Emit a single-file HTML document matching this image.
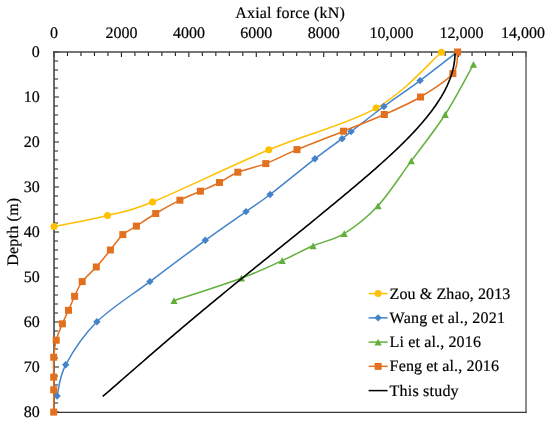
<!DOCTYPE html>
<html><head><meta charset="utf-8"><style>html,body{margin:0;padding:0;background:#fff;}svg{display:block;}</style></head>
<body><svg width="550" height="423" viewBox="0 0 550 423" font-family="'Liberation Serif', 'Times New Roman', serif" font-size="16" fill="#000" text-rendering="geometricPrecision">
<style>text{stroke:#000;stroke-width:0.2px;}</style>
<path d="M54.00,52v5 M67.49,52v4 M80.97,52v4 M94.46,52v4 M107.94,52v4 M121.43,52v5 M134.91,52v4 M148.40,52v4 M161.89,52v4 M175.37,52v4 M188.86,52v5 M202.34,52v4 M215.83,52v4 M229.31,52v4 M242.80,52v4 M256.29,52v5 M269.77,52v4 M283.26,52v4 M296.74,52v4 M310.23,52v4 M323.71,52v5 M337.20,52v4 M350.69,52v4 M364.17,52v4 M377.66,52v4 M391.14,52v5 M404.63,52v4 M418.11,52v4 M431.60,52v4 M445.09,52v4 M458.57,52v5 M472.06,52v4 M485.54,52v4 M499.03,52v4 M512.51,52v4 M526.00,52v5 M54,52.00h5 M54,61.00h4 M54,70.00h4 M54,79.00h4 M54,88.00h4 M54,97.00h5 M54,106.00h4 M54,115.00h4 M54,124.00h4 M54,133.00h4 M54,142.00h5 M54,151.00h4 M54,160.00h4 M54,169.00h4 M54,178.00h4 M54,187.00h5 M54,196.00h4 M54,205.00h4 M54,214.00h4 M54,223.00h4 M54,232.00h5 M54,241.00h4 M54,250.00h4 M54,259.00h4 M54,268.00h4 M54,277.00h5 M54,286.00h4 M54,295.00h4 M54,304.00h4 M54,313.00h4 M54,322.00h5 M54,331.00h4 M54,340.00h4 M54,349.00h4 M54,358.00h4 M54,367.00h5 M54,376.00h4 M54,385.00h4 M54,394.00h4 M54,403.00h4 M54,412.00h5" stroke="#1e1e1e" stroke-width="1.1" fill="none"/>
<path d="M526,52V412.9" stroke="#6f6f6f" stroke-width="1.6" fill="none"/>
<path d="M53.1,412.4H526.8" stroke="#383838" stroke-width="1.3" fill="none"/>
<path d="M54,412.4V51.1M53.1,52H526.8" stroke="#474747" stroke-width="1.6" fill="none"/>
<path d="M441.40,52.30 C430.53,61.60 404.97,91.85 376.20,108.10 C347.43,124.35 306.08,134.15 268.80,149.80 C231.52,165.45 179.38,191.07 152.50,202.00 C125.62,212.93 123.92,211.30 107.50,215.40 C91.08,219.50 62.92,224.73 54.00,226.60" stroke="#FFC000" stroke-width="1.5" fill="none" stroke-linejoin="round" stroke-linecap="round"/>
<circle cx="441.40" cy="52.30" r="3.50" fill="#FFC000"/><circle cx="376.20" cy="108.10" r="3.50" fill="#FFC000"/><circle cx="268.80" cy="149.80" r="3.50" fill="#FFC000"/><circle cx="152.50" cy="202.00" r="3.50" fill="#FFC000"/><circle cx="107.50" cy="215.40" r="3.50" fill="#FFC000"/><circle cx="54.00" cy="226.60" r="3.50" fill="#FFC000"/>
<path d="M455.00,53.60 C449.18,58.10 431.95,71.78 420.10,80.60 C408.25,89.42 395.40,98.00 383.90,106.50 C372.40,115.00 358.07,126.23 351.10,131.60 C344.13,136.97 348.13,134.17 342.10,138.70 C336.07,143.23 326.90,149.50 314.90,158.80 C302.90,168.10 281.58,185.70 270.10,194.50 C258.62,203.30 256.80,203.97 246.00,211.60 C235.20,219.23 221.32,228.63 205.30,240.30 C189.28,251.97 167.97,268.02 149.90,281.60 C131.83,295.18 110.93,307.93 96.90,321.80 C82.87,335.67 72.33,352.43 65.70,364.80 C59.07,377.17 58.53,390.80 57.10,396.00" stroke="#4283C9" stroke-width="1.5" fill="none" stroke-linejoin="round" stroke-linecap="round"/>
<path d="M420.10,76.90L423.80,80.60L420.10,84.30L416.40,80.60Z" fill="#4283C9"/><path d="M383.90,102.80L387.60,106.50L383.90,110.20L380.20,106.50Z" fill="#4283C9"/><path d="M351.10,127.90L354.80,131.60L351.10,135.30L347.40,131.60Z" fill="#4283C9"/><path d="M342.10,135.00L345.80,138.70L342.10,142.40L338.40,138.70Z" fill="#4283C9"/><path d="M314.90,155.10L318.60,158.80L314.90,162.50L311.20,158.80Z" fill="#4283C9"/><path d="M270.10,190.80L273.80,194.50L270.10,198.20L266.40,194.50Z" fill="#4283C9"/><path d="M246.00,207.90L249.70,211.60L246.00,215.30L242.30,211.60Z" fill="#4283C9"/><path d="M205.30,236.60L209.00,240.30L205.30,244.00L201.60,240.30Z" fill="#4283C9"/><path d="M149.90,277.90L153.60,281.60L149.90,285.30L146.20,281.60Z" fill="#4283C9"/><path d="M96.90,318.10L100.60,321.80L96.90,325.50L93.20,321.80Z" fill="#4283C9"/><path d="M65.70,361.10L69.40,364.80L65.70,368.50L62.00,364.80Z" fill="#4283C9"/><path d="M57.10,392.30L60.80,396.00L57.10,399.70L53.40,396.00Z" fill="#4283C9"/>
<path d="M473.50,64.30 C468.78,72.67 455.57,98.40 445.20,114.50 C434.83,130.60 422.50,145.68 411.30,160.90 C400.10,176.12 389.18,193.68 378.00,205.80 C366.82,217.92 355.02,226.93 344.20,233.60 C333.38,240.27 323.43,241.30 313.10,245.80 C302.77,250.30 294.15,255.20 282.20,260.60 C270.25,266.00 259.43,271.53 241.40,278.20 C223.37,284.87 185.23,296.87 174.00,300.60" stroke="#62B03C" stroke-width="1.5" fill="none" stroke-linejoin="round" stroke-linecap="round"/>
<path d="M473.50,60.90L477.10,67.70L469.90,67.70Z" fill="#62B03C"/><path d="M445.20,111.10L448.80,117.90L441.60,117.90Z" fill="#62B03C"/><path d="M411.30,157.50L414.90,164.30L407.70,164.30Z" fill="#62B03C"/><path d="M378.00,202.40L381.60,209.20L374.40,209.20Z" fill="#62B03C"/><path d="M344.20,230.20L347.80,237.00L340.60,237.00Z" fill="#62B03C"/><path d="M313.10,242.40L316.70,249.20L309.50,249.20Z" fill="#62B03C"/><path d="M282.20,257.20L285.80,264.00L278.60,264.00Z" fill="#62B03C"/><path d="M241.40,274.80L245.00,281.60L237.80,281.60Z" fill="#62B03C"/><path d="M174.00,297.20L177.60,304.00L170.40,304.00Z" fill="#62B03C"/>
<path d="M457.60,52.00 C456.82,55.60 459.08,66.10 452.90,73.60 C446.72,81.10 431.93,90.18 420.50,97.00 C409.07,103.82 397.13,108.80 384.30,114.50 C371.47,120.20 358.05,125.35 343.50,131.20 C328.95,137.05 309.95,144.20 297.00,149.60 C284.05,155.00 275.67,159.83 265.80,163.60 C255.93,167.37 245.52,169.05 237.80,172.20 C230.08,175.35 225.73,179.33 219.50,182.50 C213.27,185.67 207.00,188.25 200.40,191.20 C193.80,194.15 187.35,196.48 179.90,200.20 C172.45,203.92 162.95,209.18 155.70,213.50 C148.45,217.82 141.88,222.58 136.40,226.10 C130.92,229.62 127.13,230.62 122.80,234.60 C118.47,238.58 114.82,244.60 110.40,250.00 C105.98,255.40 101.00,261.73 96.30,267.00 C91.60,272.27 85.82,276.72 82.20,281.60 C78.58,286.48 76.88,291.52 74.60,296.30 C72.32,301.08 70.53,305.72 68.50,310.30 C66.47,314.88 64.45,318.82 62.40,323.80 C60.35,328.78 57.65,334.63 56.20,340.20 C54.75,345.77 54.12,351.05 53.70,357.20 C53.28,363.35 53.70,371.67 53.70,377.10 C53.70,382.53 53.70,383.97 53.70,389.80 C53.70,395.63 53.70,408.38 53.70,412.10" stroke="#E2701F" stroke-width="1.5" fill="none" stroke-linejoin="round" stroke-linecap="round"/>
<rect x="454.10" y="48.50" width="7.00" height="7.00" fill="#E2701F"/><rect x="449.40" y="70.10" width="7.00" height="7.00" fill="#E2701F"/><rect x="417.00" y="93.50" width="7.00" height="7.00" fill="#E2701F"/><rect x="380.80" y="111.00" width="7.00" height="7.00" fill="#E2701F"/><rect x="340.00" y="127.70" width="7.00" height="7.00" fill="#E2701F"/><rect x="293.50" y="146.10" width="7.00" height="7.00" fill="#E2701F"/><rect x="262.30" y="160.10" width="7.00" height="7.00" fill="#E2701F"/><rect x="234.30" y="168.70" width="7.00" height="7.00" fill="#E2701F"/><rect x="216.00" y="179.00" width="7.00" height="7.00" fill="#E2701F"/><rect x="196.90" y="187.70" width="7.00" height="7.00" fill="#E2701F"/><rect x="176.40" y="196.70" width="7.00" height="7.00" fill="#E2701F"/><rect x="152.20" y="210.00" width="7.00" height="7.00" fill="#E2701F"/><rect x="132.90" y="222.60" width="7.00" height="7.00" fill="#E2701F"/><rect x="119.30" y="231.10" width="7.00" height="7.00" fill="#E2701F"/><rect x="106.90" y="246.50" width="7.00" height="7.00" fill="#E2701F"/><rect x="92.80" y="263.50" width="7.00" height="7.00" fill="#E2701F"/><rect x="78.70" y="278.10" width="7.00" height="7.00" fill="#E2701F"/><rect x="71.10" y="292.80" width="7.00" height="7.00" fill="#E2701F"/><rect x="65.00" y="306.80" width="7.00" height="7.00" fill="#E2701F"/><rect x="58.90" y="320.30" width="7.00" height="7.00" fill="#E2701F"/><rect x="52.70" y="336.70" width="7.00" height="7.00" fill="#E2701F"/><rect x="50.20" y="353.70" width="7.00" height="7.00" fill="#E2701F"/><rect x="50.20" y="373.60" width="7.00" height="7.00" fill="#E2701F"/><rect x="50.20" y="386.30" width="7.00" height="7.00" fill="#E2701F"/><rect x="50.20" y="408.60" width="7.00" height="7.00" fill="#E2701F"/>
<path d="M455.00,53.60 L454.91,56.48 L454.70,59.36 L454.36,62.24 L453.89,65.12 L453.30,68.00 L452.59,70.88 L451.77,73.76 L450.82,76.64 L449.77,79.52 L448.60,82.40 L447.33,85.28 L445.95,88.16 L444.47,91.04 L442.89,93.92 L441.21,96.80 L439.44,99.68 L437.57,102.56 L435.62,105.44 L433.58,108.32 L431.45,111.20 L429.25,114.08 L426.96,116.96 L424.60,119.84 L422.16,122.72 L419.66,125.60 L417.08,128.48 L414.44,131.36 L411.73,134.24 L408.97,137.12 L406.14,139.99 L403.26,142.87 L400.33,145.75 L397.35,148.63 L394.32,151.51 L391.24,154.39 L388.12,157.27 L384.96,160.15 L381.77,163.03 L378.53,165.91 L375.27,168.79 L371.98,171.67 L368.66,174.55 L365.31,177.43 L361.95,180.31 L358.56,183.19 L355.16,186.07 L351.74,188.95 L348.31,191.83 L344.86,194.71 L341.41,197.59 L337.94,200.47 L334.46,203.35 L330.97,206.23 L327.47,209.11 L323.96,211.99 L320.44,214.87 L316.92,217.75 L313.38,220.63 L309.84,223.51 L306.30,226.39 L302.74,229.27 L299.19,232.15 L295.62,235.03 L292.06,237.91 L288.49,240.79 L284.92,243.67 L281.34,246.55 L277.77,249.43 L274.19,252.31 L270.61,255.19 L267.04,258.07 L263.46,260.95 L259.89,263.83 L256.32,266.71 L252.75,269.59 L249.19,272.47 L245.62,275.35 L242.07,278.23 L238.52,281.11 L234.97,283.99 L231.43,286.87 L227.90,289.75 L224.38,292.63 L220.86,295.51 L217.36,298.39 L213.86,301.27 L210.37,304.15 L206.90,307.03 L203.43,309.91 L199.98,312.78 L196.54,315.66 L193.11,318.54 L189.69,321.42 L186.28,324.30 L182.88,327.18 L179.49,330.06 L176.11,332.94 L172.73,335.82 L169.37,338.70 L166.01,341.58 L162.66,344.46 L159.31,347.34 L155.97,350.22 L152.64,353.10 L149.31,355.98 L145.99,358.86 L142.67,361.74 L139.35,364.62 L136.04,367.50 L132.73,370.38 L129.42,373.26 L126.11,376.14 L122.80,379.02 L119.50,381.90 L116.20,384.78 L112.89,387.66 L109.59,390.54 L106.28,393.42 L102.70,396.30" stroke="#000" stroke-width="1.6" fill="none" stroke-linejoin="round"/>
<text x="54" y="38" text-anchor="middle">0</text>
<text x="121.4" y="38" text-anchor="middle">2000</text>
<text x="188.9" y="38" text-anchor="middle">4000</text>
<text x="256.3" y="38" text-anchor="middle">6000</text>
<text x="323.7" y="38" text-anchor="middle">8000</text>
<text x="391.5" y="38" text-anchor="middle">10,000</text>
<text x="461.4" y="38" text-anchor="middle">12,000</text>
<text x="523.0" y="38" text-anchor="middle">14,000</text>
<text x="39.7" y="56.90" text-anchor="end">0</text>
<text x="39.7" y="101.90" text-anchor="end">10</text>
<text x="39.7" y="146.90" text-anchor="end">20</text>
<text x="39.7" y="191.90" text-anchor="end">30</text>
<text x="39.7" y="236.90" text-anchor="end">40</text>
<text x="39.7" y="281.90" text-anchor="end">50</text>
<text x="39.7" y="326.90" text-anchor="end">60</text>
<text x="39.7" y="371.90" text-anchor="end">70</text>
<text x="39.7" y="416.90" text-anchor="end">80</text>
<text x="290" y="17.7" text-anchor="middle" textLength="109.6" lengthAdjust="spacing">Axial force (kN)</text>
<text transform="translate(17.8,231.8) rotate(-90)" text-anchor="middle" textLength="67.9" lengthAdjust="spacing">Depth (m)</text>
<path d="M368.6,293.60H387.6" stroke="#FFC000" stroke-width="1.5"/>
<circle cx="378.10" cy="293.60" r="3.50" fill="#FFC000"/>
<text x="389.6" y="298.50" textLength="120.7" lengthAdjust="spacing">Zou &amp; Zhao, 2013</text>
<path d="M368.6,317.85H387.6" stroke="#4283C9" stroke-width="1.5"/>
<path d="M378.10,314.15L381.80,317.85L378.10,321.55L374.40,317.85Z" fill="#4283C9"/>
<text x="389.6" y="322.75" textLength="115.4" lengthAdjust="spacing">Wang et al., 2021</text>
<path d="M368.6,342.10H387.6" stroke="#62B03C" stroke-width="1.5"/>
<path d="M378.10,338.70L381.70,345.50L374.50,345.50Z" fill="#62B03C"/>
<text x="389.6" y="347.00" textLength="91.3" lengthAdjust="spacing">Li et al., 2016</text>
<path d="M368.6,366.35H387.6" stroke="#E2701F" stroke-width="1.5"/>
<rect x="374.60" y="362.85" width="7.00" height="7.00" fill="#E2701F"/>
<text x="389.6" y="371.25" textLength="109.3" lengthAdjust="spacing">Feng et al., 2016</text>
<path d="M368.6,390.60H387.6" stroke="#000" stroke-width="1.5"/>
<text x="389.6" y="395.50" textLength="69.0" lengthAdjust="spacing">This study</text>
</svg></body></html>
